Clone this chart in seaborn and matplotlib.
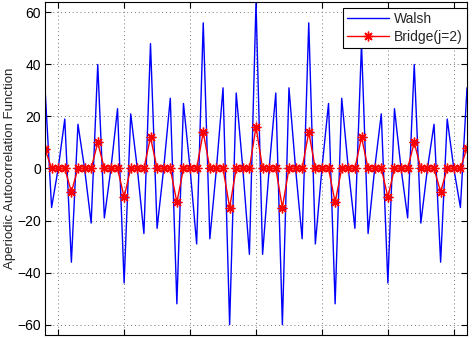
import numpy as np
import pandas as pd
import matplotlib
matplotlib.use("Agg")
import matplotlib.pyplot as plt
import seaborn as sns

lags = list(range(-32, 33))
walsh = [31, -15, 0, 19, -36, 17, 0, -21, 40, -19, 0, 23, -44, 21, 0, -25,
         48, -23, 0, 27, -52, 25, 0, -29, 56, -27, 0, 31, -60, 29, 0, -33,
         64,
         -33, 0, 29, -60, 31, 0, -27, 56, -29, 0, 25, -52, 27, 0, -23,
         48, -25, 0, 21, -44, 23, 0, -19, 40, -21, 0, 17, -36, 19, 0, -15, 31]
bridge = [7.5, 0, 0, 0, -9, 0, 0, 0, 10, 0, 0, 0, -11, 0, 0, 0,
          12, 0, 0, 0, -13, 0, 0, 0, 14, 0, 0, 0, -15, 0, 0, 0,
          16,
          0, 0, 0, -15, 0, 0, 0, 14, 0, 0, 0, -13, 0, 0, 0,
          12, 0, 0, 0, -11, 0, 0, 0, 10, 0, 0, 0, -9, 0, 0, 0, 8]
series_names = ["Walsh", "Bridge(j=2)"]
yticks = [-60, -40, -20, 0, 20, 40, 60]
xticks = [-30, -20, -10, 0, 10, 20, 30]
ylabel = "Aperiodic Autocorrelation Function"

sns.set_theme(style="white")
plt.rcParams["font.family"] = ["Liberation Sans", "DejaVu Sans"]

df = pd.DataFrame({"lag": lags, "Walsh": walsh, "Bridge": bridge})

fig = plt.figure(figsize=(4.74, 3.38), dpi=100)
ax = fig.add_axes([45/474, 1 - 335/338, (467-45)/474, 333/338])

sns.lineplot(data=df, x="lag", y="Walsh", ax=ax, color="#0000ff",
             linewidth=1.0, label=series_names[0])
sns.lineplot(data=df, x="lag", y="Bridge", ax=ax, color="#ff0000",
             linewidth=1.0, marker=(8, 2, 0), markersize=7,
             markeredgecolor="#ff0000", markeredgewidth=1.0,
             label=series_names[1])

ax.set_xlim(-32, 32)
ax.set_ylim(-64, 64)
ax.set_xticks(xticks)
ax.set_xticklabels([])
ax.set_yticks(yticks)
ax.set_xlabel("")
ax.set_ylabel(ylabel, fontsize=9.5, labelpad=1)

ax.grid(True, color="#777777", linestyle=(0, (1, 3)), linewidth=0.7)
ax.tick_params(axis="both", direction="in", length=4, width=0.8,
               top=True, right=True, bottom=True, left=True,
               labelsize=10, pad=3, colors="black")
for s in ax.spines.values():
    s.set_visible(True)
    s.set_color("black")
    s.set_linewidth(0.8)

leg = ax.legend(loc="upper right", bbox_to_anchor=(1.0, 0.982),
                borderaxespad=0, fontsize=10, frameon=True, fancybox=False,
                framealpha=1, edgecolor="black", handlelength=3,
                handletextpad=0.4, borderpad=0.3, labelspacing=0.25)
leg.get_frame().set_linewidth(0.8)

fig.savefig("out.png", dpi=100)
